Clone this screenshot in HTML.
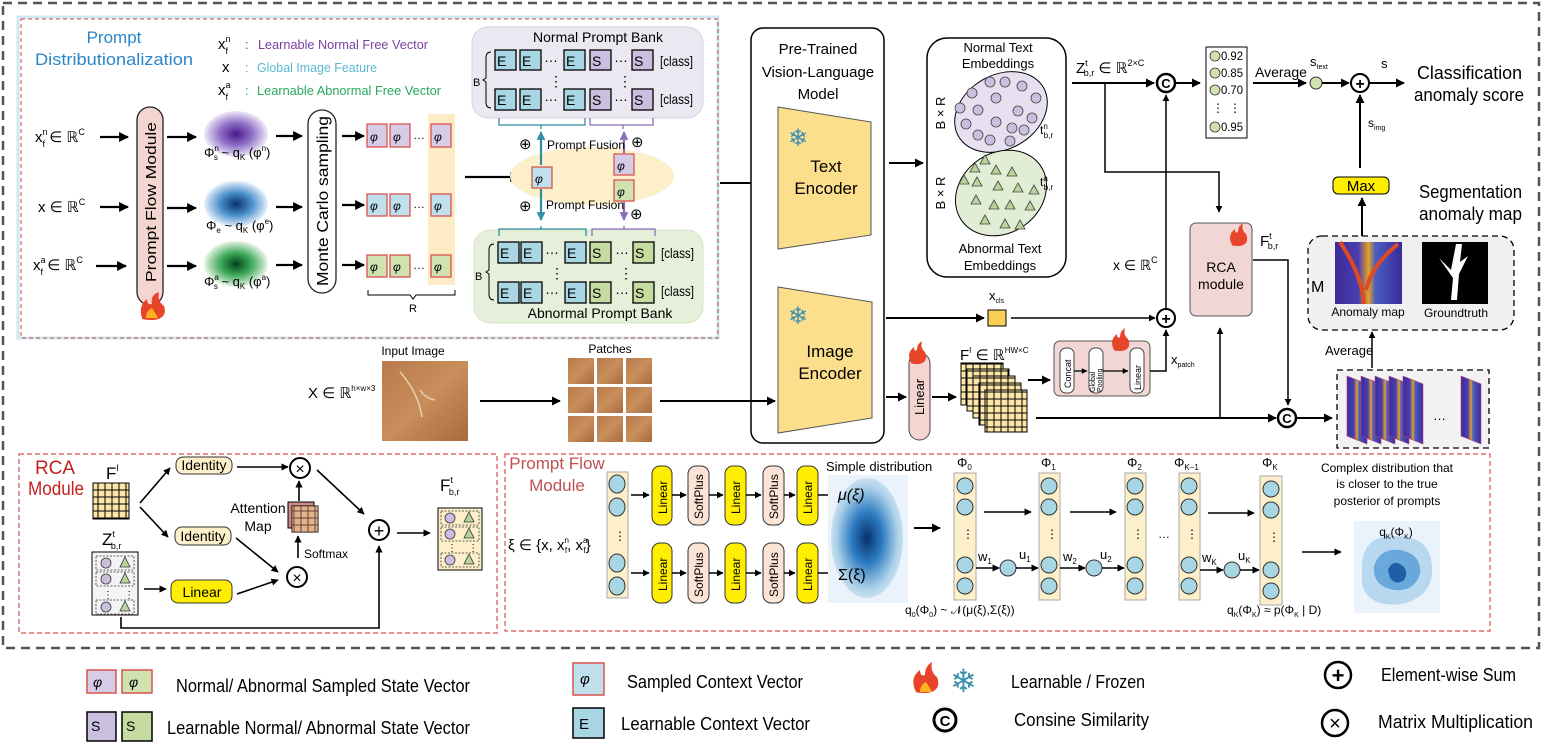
<!DOCTYPE html>
<html><head><meta charset="utf-8"><style>
html,body{margin:0;padding:0;background:#fff}
svg{display:block}
text{font-family:"Liberation Sans Narrow","Liberation Sans",sans-serif}
.s{font-family:"Liberation Sans",sans-serif}
</style></head><body>
<svg width="1544" height="745" viewBox="0 0 1544 745" xmlns="http://www.w3.org/2000/svg">
<defs>
<marker id="a" viewBox="0 0 10 10" refX="9" refY="5" markerWidth="4.5" markerHeight="4.5" orient="auto"><path d="M0,0L10,5L0,10z" fill="#000"/></marker>
<marker id="at" viewBox="0 0 10 10" refX="9" refY="5" markerWidth="4" markerHeight="4" orient="auto"><path d="M0,0L10,5L0,10z" fill="#2f8ea0"/></marker>
<marker id="ap" viewBox="0 0 10 10" refX="9" refY="5" markerWidth="4" markerHeight="4" orient="auto"><path d="M0,0L10,5L0,10z" fill="#8a6fb5"/></marker>
<radialGradient id="gp"><stop offset="0" stop-color="#4a1a8a"/><stop offset=".5" stop-color="#8f6fc8"/><stop offset="1" stop-color="#efe9f7"/></radialGradient>
<radialGradient id="gb"><stop offset="0" stop-color="#08306b"/><stop offset=".5" stop-color="#4a90cc"/><stop offset="1" stop-color="#e6f0fa"/></radialGradient>
<radialGradient id="gg"><stop offset="0" stop-color="#00441b"/><stop offset=".5" stop-color="#41ab5d"/><stop offset="1" stop-color="#e8f5e6"/></radialGradient>
<radialGradient id="gs" cx=".5" cy=".5" r=".6"><stop offset="0" stop-color="#08306b"/><stop offset=".35" stop-color="#2c7bc0"/><stop offset=".7" stop-color="#a9cfe8"/><stop offset="1" stop-color="#eef5fb"/></radialGradient>
<linearGradient id="wood" x1="0" y1="0" x2="1" y2="1"><stop offset="0" stop-color="#b87a4b"/><stop offset=".5" stop-color="#c98e5c"/><stop offset="1" stop-color="#a86a3e"/></linearGradient>
<linearGradient id="heat" x1="0" y1="0" x2="1" y2="0"><stop offset="0" stop-color="#3a2a9a"/><stop offset=".35" stop-color="#4b3fb0"/><stop offset=".5" stop-color="#e8a020"/><stop offset=".6" stop-color="#4b5fc0"/><stop offset="1" stop-color="#3a2a9a"/></linearGradient>
<pattern id="grid" width="7" height="7" patternUnits="userSpaceOnUse"><rect width="7" height="7" fill="#fde7a8" stroke="#000" stroke-width="1"/></pattern>
</defs>

<rect x="3" y="3" width="1536" height="645" fill="none" stroke="#555" stroke-width="2.5" stroke-dasharray="9,6"/>

<!-- Prompt Distributionalization -->
<rect x="18" y="17" width="700" height="321" fill="#fff" stroke="#cfe8f0" stroke-width="3"/>
<rect x="21" y="19" width="697" height="319" fill="none" stroke="#c44" stroke-width="1" stroke-dasharray="4,3"/>
<text x="114" y="43" font-size="17" fill="#2a86c8" text-anchor="middle">Prompt</text>
<text x="35" y="65" font-size="17" fill="#2a86c8" textLength="158" lengthAdjust="spacingAndGlyphs">Distributionalization</text>
<text x="218" y="49" font-size="15">x<tspan font-size="9" dy="-7">n</tspan><tspan font-size="9" dx="-5" dy="12">f</tspan></text>
<text x="245" y="49" font-size="13" fill="#7a3fa0">:</text>
<text x="258" y="49" font-size="13" fill="#7a3fa0" textLength="170" lengthAdjust="spacingAndGlyphs">Learnable Normal Free Vector</text>
<text x="222" y="72" font-size="15">x</text>
<text x="245" y="72" font-size="13" fill="#5ab8d0">:</text>
<text x="257" y="72" font-size="13" fill="#5ab8d0" textLength="120" lengthAdjust="spacingAndGlyphs">Global Image Feature</text>
<text x="218" y="95" font-size="15">x<tspan font-size="9" dy="-7">a</tspan><tspan font-size="9" dx="-5" dy="12">f</tspan></text>
<text x="245" y="95" font-size="13" fill="#2aa85a">:</text>
<text x="257" y="95" font-size="13" fill="#2aa85a" textLength="184" lengthAdjust="spacingAndGlyphs">Learnable Abnormal Free Vector</text>

<g font-size="15">
<text x="35" y="142">x<tspan font-size="9" dy="-7">n</tspan><tspan font-size="9" dx="-5" dy="12">f</tspan><tspan dy="-5"> ∈ ℝ</tspan><tspan font-size="9" dy="-7">C</tspan></text>
<text x="38" y="212">x ∈ ℝ<tspan font-size="9" dy="-7">C</tspan></text>
<text x="33" y="270">x<tspan font-size="9" dy="-7">a</tspan><tspan font-size="9" dx="-5" dy="12">f</tspan><tspan dy="-5"> ∈ ℝ</tspan><tspan font-size="9" dy="-7">C</tspan></text>
</g>
<g stroke="#000" stroke-width="2.2" marker-end="url(#a)">
<line x1="100" y1="137" x2="128" y2="137"/><line x1="100" y1="207" x2="128" y2="207"/><line x1="96" y1="266" x2="126" y2="266"/>
<line x1="167" y1="137" x2="196" y2="137"/><line x1="167" y1="208" x2="196" y2="208"/><line x1="167" y1="266" x2="196" y2="266"/>
<line x1="276" y1="136" x2="302" y2="136"/><line x1="276" y1="207" x2="302" y2="207"/><line x1="276" y1="265" x2="302" y2="265"/>
<line x1="342" y1="136" x2="364" y2="136"/><line x1="342" y1="205" x2="364" y2="205"/><line x1="342" y1="265" x2="364" y2="265"/>
<line x1="465" y1="177" x2="519" y2="177"/>
</g>
<rect x="137" y="107" width="26" height="198" rx="13" fill="#f5d5d0" stroke="#222" stroke-width="1.3"/>
<text transform="translate(156,282) rotate(-90)" font-size="15" class="s" textLength="160" lengthAdjust="spacingAndGlyphs">Prompt Flow Module</text>
<path d="M142,318 q-4,-12 5,-19 q0,7 5,5 q-2,-9 7,-12 q-2,9 5,14 q4,12 -10,14 q-13,0 -12,-2z" fill="#e8442a"/>
<path d="M146,318 q0,-7 6,-10 q4,6 6,10z" fill="#ffb020"/>

<ellipse cx="236" cy="134" rx="32" ry="23" fill="url(#gp)"/>
<ellipse cx="236" cy="204" rx="32" ry="23" fill="url(#gb)"/>
<ellipse cx="236" cy="264" rx="32" ry="23" fill="url(#gg)"/>
<text x="204" y="157" font-size="13">Φ<tspan font-size="8" dy="-6">n</tspan><tspan font-size="8" dx="-5" dy="9">s</tspan><tspan dy="-3"> ~ q</tspan><tspan font-size="8" dy="3">K</tspan><tspan dy="-3"> (φ</tspan><tspan font-size="8" dy="-6">n</tspan><tspan dy="6">)</tspan></text>
<text x="206" y="230" font-size="13">Φ<tspan font-size="8" dy="3">e</tspan><tspan dy="-3"> ~ q</tspan><tspan font-size="8" dy="3">K</tspan><tspan dy="-3"> (φ</tspan><tspan font-size="8" dy="-6">e</tspan><tspan dy="6">)</tspan></text>
<text x="204" y="286" font-size="13">Φ<tspan font-size="8" dy="-6">a</tspan><tspan font-size="8" dx="-5" dy="9">s</tspan><tspan dy="-3"> ~ q</tspan><tspan font-size="8" dy="3">K</tspan><tspan dy="-3"> (φ</tspan><tspan font-size="8" dy="-6">a</tspan><tspan dy="6">)</tspan></text>

<rect x="308" y="110" width="28" height="183" rx="14" fill="#fff" stroke="#222" stroke-width="1.3"/>
<text transform="translate(328,286) rotate(-90)" font-size="16" class="s" textLength="170" lengthAdjust="spacingAndGlyphs">Monte Carlo sampling</text>

<rect x="428" y="114" width="27" height="171" fill="#fcebc4"/>
<g stroke="#d9534f" stroke-width="1.3">
<rect x="367" y="124" width="20" height="23" fill="#d7cce6"/><rect x="390" y="124" width="20" height="23" fill="#d7cce6"/><rect x="431" y="124" width="20" height="23" fill="#d7cce6"/>
<rect x="367" y="194" width="20" height="22" fill="#bfe0ec"/><rect x="390" y="194" width="20" height="22" fill="#bfe0ec"/><rect x="431" y="194" width="20" height="22" fill="#bfe0ec"/>
<rect x="367" y="255" width="20" height="22" fill="#cfe2b0"/><rect x="390" y="255" width="20" height="22" fill="#cfe2b0"/><rect x="431" y="255" width="20" height="22" fill="#cfe2b0"/>
</g>
<g font-size="12" font-style="italic">
<text x="370" y="141">φ</text><text x="393" y="141">φ</text><text x="434" y="141">φ</text>
<text x="370" y="210">φ</text><text x="393" y="210">φ</text><text x="434" y="210">φ</text>
<text x="370" y="271">φ</text><text x="393" y="271">φ</text><text x="434" y="271">φ</text>
</g>
<g font-size="12"><text x="413" y="139">…</text><text x="413" y="208">…</text><text x="413" y="269">…</text></g>
<path d="M368,290 v5 h42 l3,4 l3,-4 h39 v-5" fill="none" stroke="#000"/>
<text x="409" y="312" font-size="11">R</text>

<!-- prompt banks -->
<rect x="472" y="27" width="231" height="91" rx="16" fill="#ece8f2" stroke="#d8d0e6"/>
<text x="598" y="42" font-size="14" text-anchor="middle">Normal Prompt Bank</text>
<rect x="474" y="230" width="229" height="93" rx="16" fill="#e5efd9" stroke="#d6e4c6"/>
<text x="600" y="318" font-size="14" text-anchor="middle">Abnormal Prompt Bank</text>
<g stroke="#000" stroke-width="1.3">
<g fill="#a9d6e5">
<rect x="495" y="50" width="21" height="20"/><rect x="520" y="50" width="21" height="20"/><rect x="564" y="50" width="21" height="20"/>
<rect x="495" y="89" width="21" height="21"/><rect x="520" y="89" width="21" height="21"/><rect x="564" y="89" width="21" height="21"/>
<rect x="498" y="242" width="21" height="21"/><rect x="521" y="242" width="21" height="21"/><rect x="565" y="242" width="21" height="21"/>
<rect x="498" y="282" width="21" height="21"/><rect x="521" y="282" width="21" height="21"/><rect x="565" y="282" width="21" height="21"/>
</g>
<g fill="#cbbfe0"><rect x="590" y="50" width="21" height="20"/><rect x="632" y="50" width="21" height="20"/><rect x="590" y="89" width="21" height="21"/><rect x="632" y="89" width="21" height="21"/></g>
<g fill="#c5dca0"><rect x="590" y="242" width="21" height="21"/><rect x="633" y="242" width="21" height="21"/><rect x="590" y="282" width="21" height="21"/><rect x="633" y="282" width="21" height="21"/></g>
</g>
<g font-size="14">
<text x="497" y="66">E</text><text x="522" y="66">E</text><text x="566" y="66">E</text><text x="592" y="66">S</text><text x="634" y="66">S</text>
<text x="497" y="105">E</text><text x="522" y="105">E</text><text x="566" y="105">E</text><text x="592" y="105">S</text><text x="634" y="105">S</text>
<text x="500" y="258">E</text><text x="523" y="258">E</text><text x="567" y="258">E</text><text x="592" y="258">S</text><text x="635" y="258">S</text>
<text x="500" y="298">E</text><text x="523" y="298">E</text><text x="567" y="298">E</text><text x="592" y="298">S</text><text x="635" y="298">S</text>
<text x="544" y="62">…</text><text x="614" y="62">…</text><text x="544" y="101">…</text><text x="614" y="101">…</text>
<text x="545" y="254">…</text><text x="615" y="254">…</text><text x="545" y="294">…</text><text x="615" y="294">…</text>
<text x="660" y="66" textLength="33" lengthAdjust="spacingAndGlyphs">[class]</text><text x="660" y="104" textLength="33" lengthAdjust="spacingAndGlyphs">[class]</text><text x="661" y="258" textLength="33" lengthAdjust="spacingAndGlyphs">[class]</text><text x="661" y="296" textLength="33" lengthAdjust="spacingAndGlyphs">[class]</text>
<text x="473" y="86" font-size="11">B</text><text x="475" y="280" font-size="11">B</text>
<text x="549" y="86">⋮</text><text x="618" y="86">⋮</text><text x="550" y="278">⋮</text><text x="619" y="278">⋮</text>
</g>
<path d="M491,52 q-5,0 -5,6 v20 l-3,2 l3,2 v20 q0,6 5,6" fill="none" stroke="#000"/>
<path d="M494,244 q-5,0 -5,6 v20 l-3,2 l3,2 v20 q0,6 5,6" fill="none" stroke="#000"/>
<path d="M499,118 v7 h86 v-7 M541,125 v4" fill="none" stroke="#2f8ea0" stroke-width="1.3"/>
<path d="M590,118 v7 h63 v-7 M623,125 v4" fill="none" stroke="#8a6fb5" stroke-width="1.3"/>
<path d="M499,236 v-7 h87 v7 M541,229 v-3" fill="none" stroke="#2f8ea0" stroke-width="1.3"/>
<path d="M592,236 v-7 h63 v7 M624,229 v-3" fill="none" stroke="#8a6fb5" stroke-width="1.3"/>

<ellipse cx="592" cy="176" rx="82" ry="29" fill="#fcefc9"/>
<line x1="541" y1="165" x2="541" y2="132" stroke="#2f8ea0" stroke-width="2.2" marker-end="url(#at)"/>
<line x1="541" y1="189" x2="541" y2="220" stroke="#2f8ea0" stroke-width="2.2" marker-end="url(#at)"/>
<line x1="624" y1="153" x2="624" y2="132" stroke="#8a6fb5" stroke-width="2.2" marker-end="url(#ap)"/>
<line x1="624" y1="202" x2="624" y2="220" stroke="#8a6fb5" stroke-width="2.2" marker-end="url(#ap)"/>
<text x="547" y="149" font-size="12">Prompt Fusion</text>
<text x="546" y="209" font-size="12">Prompt Fusion</text>
<g font-size="15"><text x="519" y="149">⊕</text><text x="631" y="147">⊕</text><text x="519" y="211">⊕</text><text x="630" y="219">⊕</text></g>
<rect x="532" y="167" width="20" height="21" fill="#bfe0ec" stroke="#d9534f" stroke-width="1.3"/>
<rect x="614" y="154" width="20" height="21" fill="#d7cce6" stroke="#d9534f" stroke-width="1.3"/>
<rect x="614" y="180" width="20" height="21" fill="#cfe2b0" stroke="#d9534f" stroke-width="1.3"/>
<g font-size="12" font-style="italic"><text x="535" y="183">φ</text><text x="617" y="170">φ</text><text x="617" y="196">φ</text></g>

<!-- VLM -->
<line x1="720" y1="183" x2="772" y2="183" stroke="#000" stroke-width="2" marker-end="url(#a)"/>
<rect x="751" y="28" width="133" height="415" rx="12" fill="#fff" stroke="#000" stroke-width="1.5"/>
<text x="818" y="54" font-size="15" text-anchor="middle">Pre-Trained</text>
<text x="818" y="77" font-size="15" text-anchor="middle">Vision-Language</text>
<text x="818" y="99" font-size="15" text-anchor="middle">Model</text>
<path d="M778,107 L871,122 L871,235 L778,249z" fill="#fbdf8c" stroke="#555"/>
<text x="826" y="172" font-size="17" text-anchor="middle">Text</text>
<text x="826" y="194" font-size="17" text-anchor="middle">Encoder</text>
<path d="M778,287 L872,302 L872,418 L778,433z" fill="#fbdf8c" stroke="#555"/>
<text x="830" y="357" font-size="17" text-anchor="middle">Image</text>
<text x="830" y="379" font-size="17" text-anchor="middle">Encoder</text>
<text x="788" y="146" font-size="24" fill="#3b8fb0">❄</text>
<text x="788" y="324" font-size="24" fill="#3b8fb0">❄</text>

<!-- text embeddings -->
<line x1="889" y1="163" x2="923" y2="163" stroke="#000" stroke-width="2" marker-end="url(#a)"/>
<rect x="927" y="38" width="139" height="239" rx="20" fill="#fff" stroke="#000" stroke-width="1.5"/>
<text x="998" y="52" font-size="13" text-anchor="middle">Normal Text</text>
<text x="998" y="68" font-size="13" text-anchor="middle">Embeddings</text>
<text x="1000" y="253" font-size="13" text-anchor="middle">Abnormal Text</text>
<text x="1000" y="270" font-size="13" text-anchor="middle">Embeddings</text>
<ellipse cx="1001" cy="112" rx="49" ry="37" transform="rotate(-30 1001 112)" fill="#e6e0f0" stroke="#000"/>
<ellipse cx="1001" cy="193" rx="48" ry="40" transform="rotate(-35 1001 193)" fill="#e2edd6" stroke="#000"/>
<g fill="#cbbfe0" stroke="#444" stroke-width=".8">
<circle cx="990" cy="82" r="5"/><circle cx="1005" cy="82" r="5"/><circle cx="1022" cy="86" r="5"/><circle cx="972" cy="93" r="5"/><circle cx="996" cy="98" r="5"/><circle cx="1036" cy="98" r="5"/><circle cx="960" cy="108" r="5"/><circle cx="978" cy="110" r="5"/><circle cx="1018" cy="111" r="5"/><circle cx="1032" cy="118" r="5"/><circle cx="966" cy="124" r="5"/><circle cx="996" cy="122" r="5"/><circle cx="1012" cy="128" r="5"/><circle cx="978" cy="135" r="5"/><circle cx="990" cy="140" r="5"/><circle cx="1010" cy="141" r="5"/><circle cx="1024" cy="130" r="5"/>
</g>
<g fill="#b8d49a" stroke="#444" stroke-width=".8">
<path d="M985,155l5,9h-10z M975,163l5,9h-10z M996,165l5,9h-10z M1012,167l5,9h-10z M964,175l5,9h-10z M977,177l5,9h-10z M998,181l5,9h-10z M1018,183l5,9h-10z M1034,185l5,9h-10z M976,195l5,9h-10z M994,200l5,9h-10z M1010,200l5,9h-10z M1030,201l5,9h-10z M985,215l5,9h-10z M1005,219l5,9h-10z M1020,220l5,9h-10z"/>
</g>
<text transform="translate(945,113) rotate(-90)" font-size="13" text-anchor="middle">B × R</text>
<text transform="translate(945,193) rotate(-90)" font-size="13" text-anchor="middle">B × R</text>
<text x="1040" y="134" font-size="12">t<tspan font-size="8" dy="-5">n</tspan><tspan font-size="8" dx="-4" dy="9">b,r</tspan></text>
<text x="1040" y="186" font-size="12">t<tspan font-size="8" dy="-5">a</tspan><tspan font-size="8" dx="-4" dy="9">b,r</tspan></text>

<!-- top right -->
<text x="1076" y="73" font-size="15">Z<tspan font-size="9" dy="-7">t</tspan><tspan font-size="9" dx="-4" dy="10">b,r</tspan><tspan dy="-3"> ∈ ℝ</tspan><tspan font-size="9" dy="-7">2×C</tspan></text>
<line x1="1072" y1="83" x2="1154" y2="83" stroke="#000" stroke-width="2" marker-end="url(#a)"/>
<polyline points="1105,83 1105,172 1219,172 1219,212" fill="none" stroke="#000" stroke-width="1.5" marker-end="url(#a)"/>
<circle cx="1166" cy="83" r="9" fill="#fff" stroke="#000" stroke-width="2.5"/><text x="1166" y="88" font-size="13" font-weight="bold" text-anchor="middle" class="s">C</text>
<line x1="1175" y1="83" x2="1200" y2="83" stroke="#000" stroke-width="2" marker-end="url(#a)"/>
<rect x="1206" y="47" width="41" height="91" fill="#fff" stroke="#000"/>
<g fill="#cfe2b0" stroke="#333" stroke-width=".8"><circle cx="1215" cy="56" r="5"/><circle cx="1215" cy="73" r="5"/><circle cx="1215" cy="90" r="5"/><circle cx="1215" cy="127" r="5"/></g>
<g font-size="12"><text x="1221" y="60" textLength="22" lengthAdjust="spacingAndGlyphs">0.92</text><text x="1221" y="77" textLength="22" lengthAdjust="spacingAndGlyphs">0.85</text><text x="1221" y="94" textLength="22" lengthAdjust="spacingAndGlyphs">0.70</text><text x="1221" y="131" textLength="22" lengthAdjust="spacingAndGlyphs">0.95</text><text x="1212" y="112">⋮</text><text x="1229" y="112">⋮</text></g>
<line x1="1253" y1="83" x2="1306" y2="83" stroke="#000" stroke-width="2" marker-end="url(#a)"/>
<text x="1255" y="77" font-size="14">Average</text>
<text x="1310" y="66" font-size="13">s<tspan font-size="7" dy="3">text</tspan></text>
<circle cx="1316" cy="83" r="6" fill="#cfe2b0" stroke="#333"/>
<line x1="1322" y1="83" x2="1349" y2="83" stroke="#000" stroke-width="2" marker-end="url(#a)"/>
<circle cx="1360" cy="83" r="9" fill="#fff" stroke="#000" stroke-width="2"/><text x="1360" y="89" font-size="16" font-weight="bold" text-anchor="middle" class="s">+</text>
<line x1="1369" y1="83" x2="1404" y2="83" stroke="#000" stroke-width="2" marker-end="url(#a)"/>
<text x="1381" y="68" font-size="13">s</text>
<text x="1417" y="79" font-size="18" textLength="105" lengthAdjust="spacingAndGlyphs">Classification</text>
<text x="1414" y="101" font-size="18" textLength="110" lengthAdjust="spacingAndGlyphs">anomaly score</text>
<line x1="1360" y1="168" x2="1360" y2="95" stroke="#000" stroke-width="2" marker-end="url(#a)"/>
<text x="1368" y="127" font-size="12">s<tspan font-size="7" dy="3">img</tspan></text>
<rect x="1333" y="177" width="56" height="17" rx="5" fill="#ffee00" stroke="#000"/>
<text x="1361" y="191" font-size="15" text-anchor="middle">Max</text>
<line x1="1362" y1="236" x2="1362" y2="198" stroke="#000" stroke-width="2" marker-end="url(#a)"/>
<text x="1419" y="198" font-size="18" textLength="103" lengthAdjust="spacingAndGlyphs">Segmentation</text>
<text x="1419" y="220" font-size="18" textLength="103" lengthAdjust="spacingAndGlyphs">anomaly map</text>
<rect x="1308" y="236" width="206" height="94" rx="14" fill="#f0f0f0" stroke="#000" stroke-width="1.3" stroke-dasharray="6,4"/>
<text x="1311" y="292" font-size="16">M</text>
<rect x="1335" y="242" width="67" height="62" fill="url(#heat)"/>
<path d="M1340,242 Q1362,275 1364,304 M1398,244 Q1372,265 1366,290" stroke="#e04a20" stroke-width="4" fill="none"/>
<rect x="1422" y="242" width="66" height="62" fill="#000"/>
<path d="M1456,244 l6,0 l-2,18 l8,-6 l-9,18 l-2,26 l-6,0 l2,-22 l-14,-20 l12,12z" fill="#fff"/>
<text x="1368" y="316" font-size="12" text-anchor="middle">Anomaly map</text>
<text x="1456" y="317" font-size="12" text-anchor="middle">Groundtruth</text>

<!-- RCA module (top) -->
<rect x="1190" y="223" width="62" height="93" rx="6" fill="#f2d6d4" stroke="#555"/>
<text x="1221" y="272" font-size="14" text-anchor="middle">RCA</text>
<text x="1221" y="289" font-size="14" text-anchor="middle">module</text>
<path d="M1232,245 q-5,-10 3,-16 q0,5 3,3 q0,-6 5,-9 q-2,7 3,11 q4,10 -6,12 q-8,0 -8,-1z" fill="#e8442a"/>
<text x="1260" y="246" font-size="15">F<tspan font-size="9" dy="-7">t</tspan><tspan font-size="9" dx="-4" dy="10">b,r</tspan></text>
<polyline points="1253,260 1288,260 1288,405" fill="none" stroke="#000" stroke-width="1.5" marker-end="url(#a)"/>
<text x="1113" y="270" font-size="14">x ∈ ℝ<tspan font-size="9" dy="-7">C</tspan></text>
<line x1="1166" y1="308" x2="1166" y2="95" stroke="#000" stroke-width="1.5" marker-end="url(#a)"/>
<circle cx="1166" cy="318" r="9" fill="#fff" stroke="#000" stroke-width="2"/><text x="1166" y="324" font-size="16" font-weight="bold" text-anchor="middle" class="s">+</text>
<line x1="886" y1="318" x2="984" y2="318" stroke="#000" stroke-width="2" marker-end="url(#a)"/>
<rect x="988" y="310" width="18" height="16" fill="#fbcf55" stroke="#000"/>
<text x="989" y="300" font-size="13">x<tspan font-size="7" dy="3">cls</tspan></text>
<line x1="1011" y1="318" x2="1155" y2="318" stroke="#000" stroke-width="1.5" marker-end="url(#a)"/>

<!-- image path -->
<text x="413" y="355" font-size="12" text-anchor="middle">Input Image</text>
<rect x="382" y="361" width="86" height="80" fill="url(#wood)"/>
<path d="M400,372 q18,20 22,45 M420,390 q5,8 15,10" stroke="#e8d0b0" stroke-width="1.5" fill="none"/>
<text x="610" y="353" font-size="12" text-anchor="middle">Patches</text>
<g fill="url(#wood)"><rect x="568" y="358" width="26" height="26"/><rect x="597" y="358" width="26" height="26"/><rect x="626" y="358" width="26" height="26"/>
<rect x="568" y="387" width="26" height="26"/><rect x="597" y="387" width="26" height="26"/><rect x="626" y="387" width="26" height="26"/>
<rect x="568" y="416" width="26" height="26"/><rect x="597" y="416" width="26" height="26"/><rect x="626" y="416" width="26" height="26"/></g>
<text x="308" y="398" font-size="15">X ∈ ℝ<tspan font-size="8" dy="-7">h×w×3</tspan></text>
<line x1="480" y1="401" x2="560" y2="401" stroke="#000" stroke-width="2" marker-end="url(#a)"/>
<line x1="660" y1="401" x2="775" y2="401" stroke="#000" stroke-width="2" marker-end="url(#a)"/>
<line x1="886" y1="397" x2="906" y2="397" stroke="#000" stroke-width="2" marker-end="url(#a)"/>
<rect x="909" y="353" width="21" height="87" rx="10.5" fill="#f5d5d0" stroke="#444"/>
<text transform="translate(924,415) rotate(-90)" font-size="13" class="s">Linear</text>
<path d="M911,363 q-5,-10 3,-16 q0,5 3,3 q0,-6 5,-9 q-2,7 3,11 q4,10 -6,12 q-8,0 -8,-1z" fill="#e8442a"/>
<line x1="932" y1="397" x2="956" y2="397" stroke="#000" stroke-width="2" marker-end="url(#a)"/>
<rect x="961" y="363" width="42" height="42" fill="url(#grid)" stroke="#000"/>
<rect x="967" y="369" width="42" height="42" fill="url(#grid)" stroke="#000"/>
<rect x="973" y="376" width="42" height="42" fill="url(#grid)" stroke="#000"/>
<rect x="979" y="383" width="42" height="42" fill="url(#grid)" stroke="#000"/>
<rect x="985" y="390" width="42" height="42" fill="url(#grid)" stroke="#000"/>
<text x="960" y="360" font-size="15">F<tspan font-size="8" dy="-7">I</tspan><tspan dy="7"> ∈ ℝ</tspan><tspan font-size="8" dy="-7">HW×C</tspan></text>
<line x1="1028" y1="380" x2="1050" y2="380" stroke="#000" stroke-width="2" marker-end="url(#a)"/>
<rect x="1054" y="341" width="96" height="55" rx="6" fill="#f2d6d4" stroke="#555"/>
<rect x="1060" y="348" width="14" height="45" rx="6" fill="#fff" stroke="#444"/>
<rect x="1089" y="348" width="14" height="45" rx="6" fill="#fff" stroke="#444"/>
<rect x="1130" y="348" width="14" height="45" rx="6" fill="#fff" stroke="#444"/>
<text transform="translate(1071,388) rotate(-90)" font-size="9" class="s">Concat</text>
<text transform="translate(1095,392) rotate(-90)" font-size="7" class="s">Global</text>
<text transform="translate(1102,392) rotate(-90)" font-size="7" class="s">Pooling</text>
<text transform="translate(1141,390) rotate(-90)" font-size="9" class="s">Linear</text>
<line x1="1074" y1="371" x2="1087" y2="371" stroke="#000" stroke-width="1.3" marker-end="url(#a)"/>
<line x1="1103" y1="371" x2="1128" y2="371" stroke="#000" stroke-width="1.3" marker-end="url(#a)"/>
<path d="M1114,350 q-5,-10 3,-16 q0,5 3,3 q0,-6 5,-9 q-2,7 3,11 q4,10 -6,12 q-8,0 -8,-1z" fill="#e8442a"/>
<polyline points="1150,371 1166,371 1166,330" fill="none" stroke="#000" stroke-width="1.5" marker-end="url(#a)"/>
<text x="1171" y="364" font-size="13">x<tspan font-size="7" dy="3">patch</tspan></text>
<line x1="1036" y1="418" x2="1276" y2="418" stroke="#000" stroke-width="2" marker-end="url(#a)"/>
<line x1="1220" y1="418" x2="1220" y2="328" stroke="#000" stroke-width="1.5" marker-end="url(#a)"/>
<circle cx="1287" cy="418" r="9" fill="#fff" stroke="#000" stroke-width="2.5"/><text x="1287" y="423" font-size="13" font-weight="bold" text-anchor="middle" class="s">C</text>
<line x1="1296" y1="418" x2="1332" y2="418" stroke="#000" stroke-width="2" marker-end="url(#a)"/>
<rect x="1337" y="370" width="152" height="78" fill="#f2f2f2" stroke="#000" stroke-width="1.3" stroke-dasharray="6,4"/>
<g fill="url(#heat)" stroke="#c04080" stroke-width=".6">
<path d="M1347,376 l20,8 v60 l-20,-8z"/><path d="M1361,376 l20,8 v60 l-20,-8z"/><path d="M1375,376 l20,8 v60 l-20,-8z"/><path d="M1389,376 l20,8 v60 l-20,-8z"/><path d="M1403,376 l20,8 v60 l-20,-8z"/><path d="M1461,376 l20,8 v60 l-20,-8z"/>
</g>
<text x="1433" y="420" font-size="13">…</text>
<text x="1325" y="355" font-size="13">Average</text>
<line x1="1372" y1="368" x2="1372" y2="332" stroke="#000" stroke-width="1.5" marker-end="url(#a)"/>

<!-- RCA Module bottom -->
<rect x="19" y="454" width="478" height="179" fill="none" stroke="#d9534f" stroke-width="1.2" stroke-dasharray="5,3"/>
<text x="55" y="474" font-size="19" fill="#c42020" text-anchor="middle">RCA</text>
<text x="56" y="495" font-size="19" fill="#c42020" text-anchor="middle" textLength="56" lengthAdjust="spacingAndGlyphs">Module</text>
<text x="106" y="479" font-size="17">F<tspan font-size="9" dy="-8">I</tspan></text>
<rect x="93" y="483" width="36" height="36" fill="url(#grid)" stroke="#000"/>
<text x="102" y="545" font-size="17">Z<tspan font-size="9" dy="-8">t</tspan><tspan font-size="9" dx="-4" dy="12">b,r</tspan></text>
<rect x="92" y="552" width="46" height="63" fill="#f4f4f4" stroke="#000"/>
<g fill="none" stroke="#333" stroke-dasharray="2,1.5" stroke-width=".8"><rect x="96" y="556" width="38" height="14"/><rect x="96" y="572" width="38" height="14"/><rect x="96" y="600" width="38" height="14"/></g>
<g fill="#cbbfe0" stroke="#333" stroke-width=".8"><circle cx="106" cy="563" r="5"/><circle cx="106" cy="579" r="5"/><circle cx="106" cy="607" r="5"/></g>
<g fill="#b8d49a" stroke="#333" stroke-width=".8"><path d="M125,557l5,10h-10z M125,573l5,10h-10z M125,601l5,10h-10z"/></g>
<text x="103" y="598" font-size="10">⋮&#160;&#160;&#160;&#160;⋮</text>
<rect x="176" y="457" width="56" height="17" rx="7" fill="#fcefc9" stroke="#333"/><text x="204" y="470" font-size="14" text-anchor="middle">Identity</text>
<rect x="175" y="527" width="56" height="18" rx="7" fill="#fcefc9" stroke="#333"/><text x="203" y="541" font-size="14" text-anchor="middle">Identity</text>
<rect x="171" y="580" width="61" height="23" rx="7" fill="#ffee00" stroke="#333"/><text x="202" y="597" font-size="14" text-anchor="middle">Linear</text>
<g stroke="#000" stroke-width="1.6" marker-end="url(#a)" fill="none">
<line x1="140" y1="503" x2="170" y2="468"/><line x1="140" y1="507" x2="168" y2="537"/><line x1="144" y1="589" x2="166" y2="589"/>
<line x1="237" y1="467" x2="288" y2="467"/><line x1="236" y1="538" x2="278" y2="572"/><line x1="237" y1="594" x2="278" y2="580"/>
<line x1="298" y1="558" x2="298" y2="536"/><line x1="299" y1="501" x2="299" y2="481"/>
<line x1="317" y1="470" x2="364" y2="514"/><line x1="397" y1="533" x2="430" y2="533"/>
<polyline points="121,617 121,628 379,628 379,546"/>
</g>
<circle cx="300" cy="468" r="10" fill="#fff" stroke="#000" stroke-width="2"/><text x="300" y="474" font-size="16" text-anchor="middle" class="s">×</text>
<circle cx="297" cy="577" r="10" fill="#fff" stroke="#000" stroke-width="2"/><text x="297" y="583" font-size="16" text-anchor="middle" class="s">×</text>
<circle cx="379" cy="530" r="10" fill="#fff" stroke="#000" stroke-width="2"/><text x="379" y="537" font-size="18" text-anchor="middle" class="s">+</text>
<rect x="288" y="502" width="26" height="26" fill="#c88" stroke="#000"/>
<rect x="292" y="506" width="26" height="26" fill="url(#grid)" stroke="#000"/>
<rect x="292" y="506" width="26" height="26" fill="#c98070" fill-opacity=".5"/>
<text x="258" y="513" font-size="14" text-anchor="middle">Attention</text>
<text x="258" y="531" font-size="14" text-anchor="middle">Map</text>
<text x="304" y="558" font-size="12">Softmax</text>
<text x="440" y="491" font-size="17">F<tspan font-size="9" dy="-8">t</tspan><tspan font-size="9" dx="-4" dy="12">b,r</tspan></text>
<rect x="438" y="508" width="44" height="62" fill="#fcefc9" stroke="#000"/>
<g fill="none" stroke="#333" stroke-dasharray="2,1.5" stroke-width=".8"><rect x="441" y="511" width="38" height="14"/><rect x="441" y="527" width="38" height="14"/><rect x="441" y="553" width="38" height="14"/></g>
<g fill="#cbbfe0" stroke="#333" stroke-width=".8"><circle cx="450" cy="518" r="5"/><circle cx="450" cy="534" r="5"/><circle cx="450" cy="560" r="5"/></g>
<g fill="#b8d49a" stroke="#333" stroke-width=".8"><path d="M469,512l5,10h-10z M469,528l5,10h-10z M469,554l5,10h-10z"/></g>
<text x="447" y="551" font-size="10">⋮&#160;&#160;&#160;&#160;⋮</text>

<!-- Prompt Flow Module bottom -->
<rect x="505" y="454" width="985" height="177" fill="none" stroke="#d9534f" stroke-width="1.2" stroke-dasharray="5,3"/>
<text x="557" y="469" font-size="17" fill="#c05050" text-anchor="middle">Prompt Flow</text>
<text x="557" y="491" font-size="17" fill="#c05050" text-anchor="middle">Module</text>
<text x="508" y="550" font-size="15">ξ ∈ {x, x<tspan font-size="8" dy="-7">n</tspan><tspan font-size="8" dx="-4" dy="10">f</tspan><tspan dy="-3">, x</tspan><tspan font-size="8" dy="-7">a</tspan><tspan font-size="8" dx="-4" dy="10">f</tspan><tspan dy="-3">}</tspan></text>
<rect x="607" y="472" width="21" height="126" fill="#fcefc9" stroke="#aaa"/>
<g fill="#a9d6e5" stroke="#333"><ellipse cx="617" cy="484" rx="8" ry="9"/><ellipse cx="617" cy="507" rx="8" ry="9"/><ellipse cx="617" cy="563" rx="8" ry="9"/><ellipse cx="617" cy="586" rx="8" ry="9"/></g>
<text x="614" y="540" font-size="12">⋮</text>
<g stroke="#333">
<rect x="652" y="466" width="20" height="59" rx="8" fill="#ffee00"/><rect x="688" y="466" width="21" height="59" rx="8" fill="#fbe3d6"/><rect x="725" y="466" width="21" height="59" rx="8" fill="#ffee00"/><rect x="763" y="466" width="21" height="59" rx="8" fill="#fbe3d6"/><rect x="797" y="466" width="21" height="59" rx="8" fill="#ffee00"/>
<rect x="652" y="543" width="20" height="60" rx="8" fill="#ffee00"/><rect x="688" y="543" width="21" height="60" rx="8" fill="#fbe3d6"/><rect x="725" y="543" width="21" height="60" rx="8" fill="#ffee00"/><rect x="763" y="543" width="21" height="60" rx="8" fill="#fbe3d6"/><rect x="797" y="543" width="21" height="60" rx="8" fill="#ffee00"/>
</g>
<g font-size="12" class="s">
<text transform="translate(667,514) rotate(-90)">Linear</text><text transform="translate(703,519) rotate(-90)">SoftPlus</text><text transform="translate(740,514) rotate(-90)">Linear</text><text transform="translate(778,519) rotate(-90)">SoftPlus</text><text transform="translate(812,514) rotate(-90)">Linear</text>
<text transform="translate(667,591) rotate(-90)">Linear</text><text transform="translate(703,597) rotate(-90)">SoftPlus</text><text transform="translate(740,591) rotate(-90)">Linear</text><text transform="translate(778,597) rotate(-90)">SoftPlus</text><text transform="translate(812,591) rotate(-90)">Linear</text>
</g>
<g stroke="#000" stroke-width="1.5" marker-end="url(#a)">
<line x1="631" y1="495" x2="649" y2="495"/><line x1="672" y1="495" x2="686" y2="495"/><line x1="709" y1="495" x2="723" y2="495"/><line x1="746" y1="495" x2="761" y2="495"/><line x1="784" y1="495" x2="795" y2="495"/><line x1="818" y1="495" x2="835" y2="495"/>
<line x1="631" y1="573" x2="649" y2="573"/><line x1="672" y1="573" x2="686" y2="573"/><line x1="709" y1="573" x2="723" y2="573"/><line x1="746" y1="573" x2="761" y2="573"/><line x1="784" y1="573" x2="795" y2="573"/><line x1="818" y1="573" x2="835" y2="573"/>
</g>
<text x="826" y="471" font-size="13">Simple distribution</text>
<rect x="828" y="475" width="80" height="128" fill="#eaf3fb"/>
<ellipse cx="867" cy="538" rx="36" ry="60" fill="url(#gs)"/>
<text x="838" y="500" font-size="16" font-style="italic" class="s">μ(ξ)</text>
<text x="838" y="580" font-size="16" class="s">Σ(ξ)</text>
<line x1="914" y1="528" x2="940" y2="528" stroke="#000" stroke-width="2" marker-end="url(#a)"/>
<g fill="#fcefc9" stroke="#aaa"><rect x="954" y="473" width="22" height="127"/><rect x="1039" y="473" width="21" height="127"/><rect x="1125" y="473" width="21" height="127"/><rect x="1179" y="473" width="21" height="127"/><rect x="1260" y="476" width="22" height="129"/></g>
<g fill="#a9d6e5" stroke="#333">
<circle cx="965" cy="486" r="8"/><circle cx="965" cy="507" r="8"/><circle cx="965" cy="565" r="8"/><circle cx="965" cy="586" r="8"/>
<circle cx="1049" cy="486" r="8"/><circle cx="1049" cy="507" r="8"/><circle cx="1049" cy="565" r="8"/><circle cx="1049" cy="586" r="8"/>
<circle cx="1135" cy="486" r="8"/><circle cx="1135" cy="507" r="8"/><circle cx="1135" cy="565" r="8"/><circle cx="1135" cy="586" r="8"/>
<circle cx="1189" cy="486" r="8"/><circle cx="1189" cy="507" r="8"/><circle cx="1189" cy="565" r="8"/><circle cx="1189" cy="586" r="8"/>
<circle cx="1271" cy="489" r="8"/><circle cx="1271" cy="510" r="8"/><circle cx="1271" cy="570" r="8"/><circle cx="1271" cy="591" r="8"/>
<circle cx="1008" cy="568" r="8"/><circle cx="1094" cy="568" r="8"/><circle cx="1232" cy="570" r="8"/>
</g>
<g font-size="12"><text x="962" y="538">⋮</text><text x="1046" y="538">⋮</text><text x="1132" y="538">⋮</text><text x="1186" y="538">⋮</text><text x="1268" y="541">⋮</text><text x="1158" y="538">…</text></g>
<g font-size="13">
<text x="957" y="467">Φ<tspan font-size="8" dy="3">0</tspan></text><text x="1041" y="467">Φ<tspan font-size="8" dy="3">1</tspan></text><text x="1127" y="467">Φ<tspan font-size="8" dy="3">2</tspan></text><text x="1174" y="467">Φ<tspan font-size="8" dy="3">K−1</tspan></text><text x="1262" y="467">Φ<tspan font-size="8" dy="3">K</tspan></text>
<text x="978" y="561">w<tspan font-size="8" dy="3">1</tspan></text><text x="1019" y="559">u<tspan font-size="8" dy="3">1</tspan></text>
<text x="1063" y="561">w<tspan font-size="8" dy="3">2</tspan></text><text x="1100" y="559">u<tspan font-size="8" dy="3">2</tspan></text>
<text x="1202" y="562">w<tspan font-size="8" dy="3">K</tspan></text><text x="1238" y="560">u<tspan font-size="8" dy="3">K</tspan></text>
</g>
<g stroke="#000" stroke-width="1.6" marker-end="url(#a)">
<line x1="984" y1="512" x2="1031" y2="512"/><line x1="1070" y1="512" x2="1116" y2="512"/><line x1="1208" y1="513" x2="1254" y2="513"/>
<line x1="976" y1="568" x2="999" y2="568"/><line x1="1016" y1="568" x2="1038" y2="568"/>
<line x1="1060" y1="568" x2="1085" y2="568"/><line x1="1102" y1="568" x2="1124" y2="568"/>
<line x1="1200" y1="570" x2="1223" y2="570"/><line x1="1240" y1="570" x2="1259" y2="570"/>
<line x1="1302" y1="552" x2="1341" y2="552"/>
</g>
<text x="905" y="614" font-size="12">q<tspan font-size="7" dy="3">0</tspan><tspan dy="-3">(Φ</tspan><tspan font-size="7" dy="3">0</tspan><tspan dy="-3">) ~ 𝒩(μ(ξ),Σ(ξ))</tspan></text>
<text x="1227" y="614" font-size="12">q<tspan font-size="7" dy="3">K</tspan><tspan dy="-3">(Φ</tspan><tspan font-size="7" dy="3">K</tspan><tspan dy="-3">) ≈ p(Φ</tspan><tspan font-size="7" dy="3">K</tspan><tspan dy="-3"> | D)</tspan></text>
<text x="1387" y="472" font-size="12" text-anchor="middle">Complex distribution that</text>
<text x="1387" y="488" font-size="12" text-anchor="middle">is closer to the true</text>
<text x="1387" y="505" font-size="12" text-anchor="middle">posterior of prompts</text>
<rect x="1354" y="521" width="86" height="92" fill="#eaf3fb"/>
<path d="M1362,562 q4,-28 34,-26 q34,0 36,30 q2,30 -30,38 q-34,4 -40,-20z" fill="#b8d8f0"/>
<path d="M1374,566 q6,-18 26,-16 q22,4 20,24 q-6,18 -26,16 q-22,-4 -20,-24z" fill="#6aa8dc"/>
<path d="M1388,570 q4,-10 12,-6 q10,6 4,16 q-8,6 -14,-2z" fill="#1f5fa8"/>
<text x="1396" y="536" font-size="12" text-anchor="middle">q<tspan font-size="7" dy="3">K</tspan><tspan dy="-3">(Φ</tspan><tspan font-size="7" dy="3">K</tspan><tspan dy="-3">)</tspan></text>

<!-- Legend -->
<rect x="87" y="670" width="29" height="23" fill="#d7cce6" stroke="#d9534f" stroke-width="1.5"/>
<rect x="122" y="670" width="30" height="23" fill="#cfe2b0" stroke="#d9534f" stroke-width="1.5"/>
<text x="93" y="687" font-size="14" font-style="italic">φ</text><text x="129" y="687" font-size="14" font-style="italic">φ</text>
<text x="176" y="692" font-size="18" textLength="294" lengthAdjust="spacingAndGlyphs">Normal/ Abnormal Sampled State Vector</text>
<rect x="87" y="712" width="29" height="29" fill="#cbbfe0" stroke="#000" stroke-width="1.5"/>
<rect x="122" y="712" width="30" height="29" fill="#c5dca0" stroke="#000" stroke-width="1.5"/>
<text x="91" y="731" font-size="14">S</text><text x="126" y="731" font-size="14">S</text>
<text x="167" y="734" font-size="18" textLength="303" lengthAdjust="spacingAndGlyphs">Learnable Normal/ Abnormal State Vector</text>
<rect x="573" y="663" width="31" height="32" fill="#bfe0ec" stroke="#d9534f" stroke-width="1.5"/>
<text x="580" y="684" font-size="15" font-style="italic">φ</text>
<text x="627" y="688" font-size="18" textLength="176" lengthAdjust="spacingAndGlyphs">Sampled Context Vector</text>
<rect x="573" y="708" width="31" height="30" fill="#a9d6e5" stroke="#000" stroke-width="1.5"/>
<text x="579" y="729" font-size="15">E</text>
<text x="621" y="730" font-size="18" textLength="189" lengthAdjust="spacingAndGlyphs">Learnable Context Vector</text>
<path d="M916,692 q-7,-14 4,-22 q0,7 5,5 q0,-9 7,-13 q-2,10 5,15 q5,13 -9,16 q-12,0 -12,-1z" fill="#e8442a"/>
<path d="M920,692 q0,-7 6,-10 q4,6 6,10z" fill="#ffb020"/>
<text x="950" y="692" font-size="32" fill="#3b8fb0">❄</text>
<text x="1011" y="688" font-size="18" textLength="134" lengthAdjust="spacingAndGlyphs">Learnable / Frozen</text>
<circle cx="945" cy="720" r="11" fill="#fff" stroke="#000" stroke-width="3"/><text x="945" y="726" font-size="15" font-weight="bold" text-anchor="middle" class="s">C</text>
<text x="1014" y="726" font-size="18" textLength="135" lengthAdjust="spacingAndGlyphs">Consine Similarity</text>
<circle cx="1338" cy="675" r="13" fill="#fff" stroke="#000" stroke-width="2.5"/><text x="1338" y="683" font-size="22" font-weight="bold" text-anchor="middle" class="s">+</text>
<text x="1381" y="681" font-size="18" textLength="135" lengthAdjust="spacingAndGlyphs">Element-wise Sum</text>
<circle cx="1335" cy="723" r="13" fill="#fff" stroke="#000" stroke-width="2.5"/><text x="1335" y="730" font-size="20" text-anchor="middle" class="s">×</text>
<text x="1378" y="728" font-size="18" textLength="155" lengthAdjust="spacingAndGlyphs">Matrix Multiplication</text>
</svg>
</body></html>
